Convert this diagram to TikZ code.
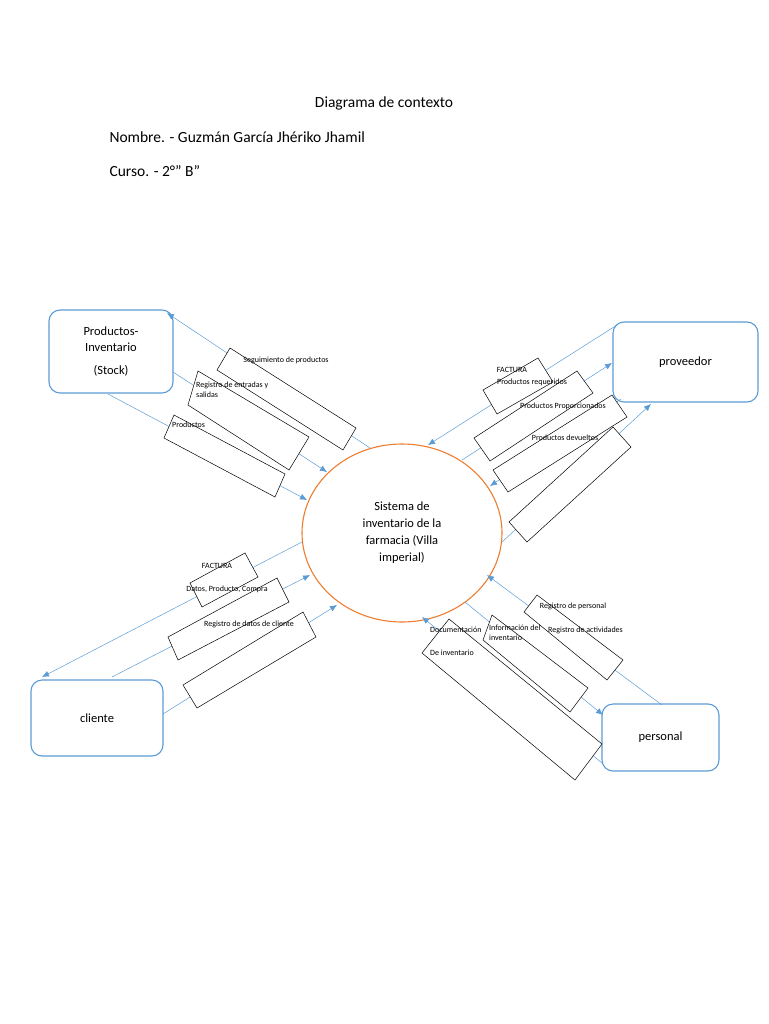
\documentclass[tikz,border=0pt]{standalone}
\usepackage{fontspec}
\setmainfont{Carlito}
\usetikzlibrary{arrows.meta,shapes.geometric}
\definecolor{eblue}{RGB}{91,155,213}
\definecolor{eorange}{RGB}{237,125,49}
\begin{document}
\begin{tikzpicture}[x=1pt,y=-1pt,
 ent/.style={draw=eblue,line width=1.1pt,rounded corners=11pt,font=\fontsize{12.5}{16}\selectfont,align=center,inner sep=0},
 flow/.style={draw=eblue,line width=0.5pt,-{Latex[length=7pt,width=6pt]}},
 lbl/.style={draw=black,fill=white,line width=0.5pt},
 tx/.style={font=\fontsize{8}{10}\selectfont,inner sep=0,align=left}]
\path[use as bounding box] (0,0) rectangle (768,1024);
\node[font=\fontsize{15.5}{18}\selectfont] (t1) at (384,103) {Diagrama de contexto};
\node[font=\fontsize{15.5}{18}\selectfont,anchor=west] (t2) at (106,137) {Nombre. - Guzmán García Jhériko Jhamil};
\node[font=\fontsize{15.5}{18}\selectfont,anchor=west] (t3) at (106,171) {Curso. - 2°” B”};
% entities
\node[ent,minimum width=124pt,minimum height=83pt] (pi) at (111,351.5) {Productos-\\Inventario\\[7pt](Stock)};
\node[ent,minimum width=145pt,minimum height=80pt] (pv) at (685.5,362) {proveedor};
\node[ent,minimum width=132pt,minimum height=76pt] (cl) at (97,718) {cliente};
\node[ent,minimum width=117pt,minimum height=67pt] (pe) at (660.5,737.5) {personal};
\node[draw=eorange,line width=1.1pt,ellipse,minimum width=200pt,minimum height=178pt,inner sep=0,align=center,font=\fontsize{12.5}{17}\selectfont] (sys) at (402,533) {Sistema de\\inventario de la\\farmacia (Villa\\imperial)};
% endpoints
\coordinate (a1) at (370,448); \coordinate (a2) at (167,313);
\coordinate (b1) at (173,372); \coordinate (b2) at (327,472);
\coordinate (c1) at (108,394); \coordinate (c2) at (307,500);
\coordinate (d1) at (617,325); \coordinate (d2) at (428,445);
\coordinate (e1) at (462,460); \coordinate (e2) at (612,363);
\coordinate (f1) at (621,399); \coordinate (f2) at (490,486);
\coordinate (g1) at (502,542); \coordinate (g2) at (651,404);
\coordinate (h1) at (662,705); \coordinate (h2) at (487,575);
\coordinate (i1) at (465,602); \coordinate (i2) at (603,715);
\coordinate (j1) at (602,763); \coordinate (j2) at (422,617);
\coordinate (k1) at (302,542); \coordinate (k2) at (42,677);
\coordinate (l1) at (112,677); \coordinate (l2) at (310,575);
\coordinate (m1) at (163,714); \coordinate (m2) at (337,605);
\foreach \s/\e in {a1/a2,b1/b2,c1/c2,d1/d2,e1/e2,f1/f2,g1/g2,h1/h2,i1/i2,j1/j2,k1/k2,l1/l2,m1/m2}
  \draw[flow] (\s) -- (\e);
% label boxes
\draw[lbl] (164,438)--(174,415)--(285,474)--(275,497)--cycle;
\draw[lbl] (188,405)--(198,371)--(309,437)--(289,470)--cycle;
\draw[lbl] (217,370)--(230,348)--(356,428)--(343,450)--cycle;
\draw[lbl] (509,522)--(613,427)--(631,447)--(527,542)--cycle;
\draw[lbl] (493,470)--(612,395)--(627,417)--(508,492)--cycle;
\draw[lbl] (474,438)--(577,371)--(593,393)--(490,461)--cycle;
\draw[lbl] (483,390)--(538,358)--(553,382)--(497,414)--cycle;
\draw[lbl] (422,653)--(449,619)--(602,744)--(575,780)--cycle;
\draw[lbl] (524,612)--(537,595)--(623,660)--(607,680)--cycle;
\draw[lbl] (483,640)--(492,615)--(588,688)--(570,712)--cycle;
\draw[lbl] (183,685)--(303,612)--(316,637)--(197,708)--cycle;
\draw[lbl] (168,637)--(277,578)--(289,602)--(178,660)--cycle;
\draw[lbl] (190,583)--(245,553)--(258,577)--(202,607)--cycle;
% label texts
\node[tx,anchor=west] (lp) at (172,425) {Productos};
\node[tx,anchor=west] (lr) at (196,390) {Registro de entradas y\\salidas};
\node[tx] (ls) at (286,360) {Seguimiento de productos};
\node[tx] (ld) at (565,438) {Productos devueltos};
\node[tx] (lpp) at (563,406) {Productos Proporcionados};
\node[tx] (lf) at (512,370) {FACTURA};
\node[tx] (lq) at (532,382) {Productos requeridos};
\node[tx,anchor=west] (ldoc) at (430,630) {Documentación};
\node[tx,anchor=west] (ldi) at (430,653) {De inventario};
\node[tx] (lrp) at (573,606) {Registro de personal};
\node[tx,anchor=west] (lra) at (548,630) {Registro de actividades};
\node[tx,anchor=west] (lii) at (489,633) {Información del\\inventario};
\node[tx] (lrc) at (249,624) {Registro de datos de cliente};
\node[tx] (ldp) at (227,589) {Datos, Producto, Compra};
\node[tx] (lfc) at (217,566) {FACTURA};
\end{tikzpicture}
\end{document}
